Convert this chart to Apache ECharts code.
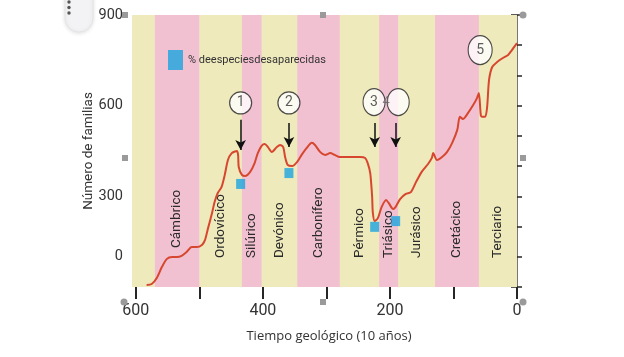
<!DOCTYPE html>
<html><head><meta charset="utf-8">
<script src="https://cdn.jsdelivr.net/npm/echarts@6/dist/echarts.min.js"></script>
<style>html,body{margin:0;padding:0;background:#fff}#c{width:624px;height:357px}</style>
</head><body><div id="c"></div>
<script>
// ---- data ----
const timeMa = [583,575,567,559,551,543,535,528,520,512,504,496,491,487,480,476,471,465,460,455,449,441,439,438,433,428,420,413,408,402,397,392,386,378,373,368,365,361,354,346,339,331,323,318,310,302,294,287,279,263,247,239,235,231,228,227,224,219,213,206,202,195,191,184,175,167,159,150,140,134,132,126,118,110,102,94,90,85,77,69,63,60,57,55,50,47,44,39,31,22,14,8,0];
const families = [7,10,30,66,93,99,99,103,116,132,132,139,156,189,245,281,311,331,371,420,443,450,437,397,371,367,381,410,443,467,473,463,447,463,470,463,430,404,400,414,437,460,477,470,447,437,443,437,430,430,430,427,410,377,298,248,218,228,265,288,278,258,265,291,308,314,347,381,407,427,443,420,430,447,477,520,563,556,576,602,625,642,569,563,563,596,685,728,745,758,768,784,807];

const periodEdges = [606,570,500,433,402,346,279,217,187,129,60,0];
const periodNames = ['','Cámbrico','Ordovícico','Silúrico','Devónico','Carbonífero','Pérmico','Triásico','Jurásico','Cretácico','Terciario'];
const periodLabelBase = [96,129,96,96,96,96,96,96,96,96,96];

const extinctionName = '% deespeciesdesaparecidas';
const extinctionTime = [435,359,224,191];
const extinctionValue = [341,377,199,218];

const eventLabels = ['1','2','3','','5'];
const eventTime = [435,359,225,187,58];
const eventValue = [609,609,612,612,784];
const extraLabel = ['4'];
const extraLabelTime = [206];
const extraLabelValue = [612];

const arrowTime = [435,359,224,191];
const arrowFrom = [553,543,543,543];
const arrowTo = [453,463,463,463];

const xTickValues = [0,100,200,300,400,500,600];
const xLabelValues = [0,200,400,600];
const yTickValues = [0,100,200,300,400,500,600,700,800,900];
const yLabelValues = [100,300,600,900];
const yLabelTexts = ['0','300','600','900'];

const xName = 'Tiempo geológico (10 años)';
const yName = 'Número de familias';

// ---- styles ----
const NARROW = "Roboto,'Noto Sans',sans-serif";
const YELLOW = '#EEEABC';
const PINK = '#F2C1D1';
const RED = '#D7462E';
const BLUE = '#1CA4E0';
const INK = '#262626';

const chart = echarts.init(document.getElementById('c'), null, {renderer:'canvas'});

const bandData = periodNames.map((n,i)=>[periodEdges[i], periodEdges[i+1], periodLabelBase[i], i]);

chart.setOption({
  animation:false,
  grid:{left:132, right:107, top:15, bottom:70},
  legend:{
    show:true, left:168, top:50, padding:0,
    icon:'rect', itemWidth:15, itemHeight:20,
    data:[extinctionName],
    textStyle:{fontFamily:NARROW, fontSize:11, color:'#333'}
  },
  xAxis:{
    type:'value', min:0, max:606, inverse:true,
    name:xName, nameLocation:'middle', nameGap:43, nameMoveOverlap:false,
    nameTextStyle:{fontFamily:"'Open Sans',sans-serif", fontSize:13, color:'#333', padding:[0,0,0,9]},
    axisLine:{show:false},
    axisTick:{show:true, customValues:xTickValues, length:12, lineStyle:{color:INK, width:2}},
    axisLabel:{customValues:xLabelValues, margin:16, fontFamily:NARROW, fontSize:16, color:'#333'},
    splitLine:{show:false}
  },
  yAxis:[{
    type:'value', min:0, max:900, interval:100,
    name:yName, nameLocation:'middle', nameGap:36, nameRotate:90, nameMoveOverlap:false,
    nameTextStyle:{fontFamily:NARROW, fontSize:13.5, color:'#333'},
    axisLine:{show:true, lineStyle:{color:'#777', width:1}},
    axisTick:{show:true, customValues:yTickValues, length:6, lineStyle:{color:INK, width:1.5}},
    axisLabel:{customValues:yLabelValues, margin:9, fontFamily:NARROW, fontSize:14.5, color:'#333',
      formatter:v=>yLabelTexts[yLabelValues.indexOf(v)]},
    splitLine:{show:false}
  },{
    type:'value', min:0, max:900, interval:100, position:'right',
    axisLine:{show:false},
    axisTick:{show:true, length:5, lineStyle:{color:INK, width:1.5}},
    axisLabel:{show:false}, splitLine:{show:false}
  }],
  series:[
    {
      type:'custom', z:1, silent:true, clip:true,
      encode:{x:[0,1], y:2},
      data:bandData,
      renderItem(params, api){
        const x0 = api.value(0), x1 = api.value(1), base = api.value(2), i = api.value(3);
        const p0 = api.coord([x0, 900]);
        const p1 = api.coord([x1, 0]);
        const left = Math.min(p0[0], p1[0]);
        const w = Math.abs(p1[0]-p0[0]);
        const children = [{type:'rect', shape:{x:left, y:p0[1], width:w+0.5, height:p1[1]-p0[1]}, style:{fill: i%2===0 ? YELLOW : PINK}}];
        const name = periodNames[i];
        if (name) {
          const pb = api.coord([(x0+x1)/2, base]);
          children.push({type:'text', x:pb[0], y:pb[1], rotation:Math.PI/2,
            style:{text:name, align:'left', verticalAlign:'middle', fill:'#2a2a2a', font:'13.5px '+NARROW}});
        }
        return {type:'group', children};
      }
    },
    {
      type:'line', z:3, name:'familias', showSymbol:false, silent:true,
      smooth:0.25,
      data: timeMa.map((t,i)=>[t, families[i]]),
      lineStyle:{color:RED, width:2},
      markLine:{
        silent:true, symbol:['none','arrow'], symbolSize:[8,10],
        lineStyle:{color:'#111', width:1.5, type:'solid'},
        label:{show:false},
        data: arrowTime.map((t,i)=>[{coord:[t, arrowFrom[i]]},{coord:[t, arrowTo[i]]}])
      }
    },
    {
      type:'scatter', z:5, name:extinctionName, silent:true,
      symbol:'rect', symbolSize:[9,10],
      itemStyle:{color:BLUE},
      data: extinctionTime.map((t,i)=>[t, extinctionValue[i]])
    },
    {
      type:'scatter', z:6, silent:true,
      symbol:'circle',
      symbolSize:(v,p)=> p.dataIndex < 2 ? [22,22] : (p.dataIndex === 4 ? [24,29] : [22,27]),
      itemStyle:{color:'#fff', borderColor:'#222', borderWidth:1.2},
      label:{show:true, position:'inside', formatter:p=>eventLabels[p.dataIndex],
        fontFamily:NARROW, fontSize:14, color:'#333'},
      data: eventTime.map((t,i)=>[t, eventValue[i]])
    },
    {
      type:'scatter', z:7, silent:true,
      symbolSize:1, itemStyle:{color:'rgba(0,0,0,0)'},
      label:{show:true, position:'inside', formatter:p=>extraLabel[p.dataIndex],
        fontFamily:NARROW, fontSize:13, color:'#666'},
      data: extraLabelTime.map((t,i)=>[t, extraLabelValue[i]])
    }
  ],
  graphic:[
    {type:'rect', shape:{x:65, y:-30, width:28, height:62, r:14}, style:{fill:'#f3f3f5', stroke:'#e4e4e6', lineWidth:1, shadowBlur:4, shadowOffsetY:1, shadowColor:'rgba(0,0,0,0.12)'}, z:10},
    {type:'circle', shape:{cx:69, cy:2, r:1.7}, style:{fill:'#555'}, z:11},
    {type:'circle', shape:{cx:69, cy:7.5, r:1.7}, style:{fill:'#555'}, z:11},
    {type:'circle', shape:{cx:69, cy:13, r:1.7}, style:{fill:'#555'}, z:11},
    {type:'rect', shape:{x:122, y:12, width:6, height:6}, style:{fill:'#9a9a9a'}, z:10},
    {type:'rect', shape:{x:122, y:155, width:6, height:6}, style:{fill:'#9a9a9a'}, z:10},
    {type:'circle', shape:{cx:124, cy:302, r:3.5}, style:{fill:'#9a9a9a'}, z:10},
    {type:'rect', shape:{x:320, y:12, width:6, height:6}, style:{fill:'#9a9a9a'}, z:10},
    {type:'rect', shape:{x:320, y:299, width:6, height:6}, style:{fill:'#9a9a9a'}, z:10},
    {type:'circle', shape:{cx:523, cy:15, r:3.5}, style:{fill:'#9a9a9a'}, z:10},
    {type:'rect', shape:{x:520, y:155, width:6, height:6}, style:{fill:'#9a9a9a'}, z:10},
    {type:'circle', shape:{cx:523, cy:302, r:3.5}, style:{fill:'#9a9a9a'}, z:10}
  ]
});
</script>
</body></html>
